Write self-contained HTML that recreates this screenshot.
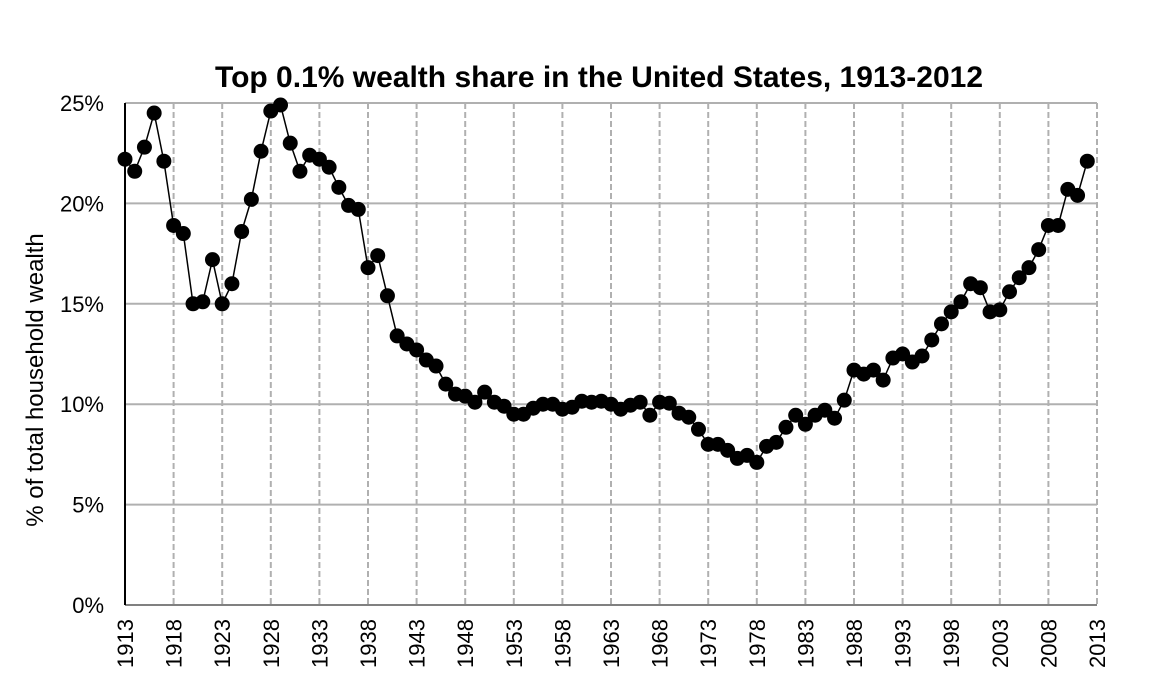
<!DOCTYPE html>
<html><head><meta charset="utf-8"><style>
html,body{margin:0;padding:0;background:#fff;}
svg{display:block;font-family:"Liberation Sans",Arial,sans-serif;}
</style></head><body>
<svg id="chart" width="1150" height="684">
<text x="599" y="87" text-anchor="middle" font-size="30" font-weight="bold" fill="#000">Top 0.1% wealth share in the United States, 1913-2012</text>
<text transform="translate(43,380) rotate(-90)" text-anchor="middle" font-size="24" fill="#000">% of total household wealth</text>
<g id="grid"></g>
<g id="axes"></g>
<g id="series"></g>
</svg>
<script>
const startYear = 1913;
const shares = [22.2,21.6,22.8,24.5,22.1,18.9,18.5,15.0,15.1,17.2,15.0,16.0,18.6,20.2,22.6,24.6,24.9,23.0,21.6,22.4,22.2,21.8,20.8,19.9,19.7,16.8,17.4,15.4,13.4,13.0,12.7,12.2,11.9,11.0,10.5,10.4,10.1,10.6,10.1,9.9,9.5,9.5,9.8,10.0,10.0,9.75,9.85,10.15,10.1,10.15,10.0,9.75,9.95,10.1,9.45,10.1,10.05,9.55,9.35,8.75,8.0,8.0,7.7,7.3,7.45,7.1,7.9,8.1,8.85,9.45,9.0,9.45,9.7,9.3,10.2,11.7,11.5,11.7,11.2,12.3,12.5,12.1,12.4,13.2,14.0,14.6,15.1,16.0,15.8,14.6,14.7,15.6,16.3,16.8,17.7,18.9,18.9,20.7,20.4,22.1];
const yTicks = [0,5,10,15,20,25];
const xTicks = [1913,1918,1923,1928,1933,1938,1943,1948,1953,1958,1963,1968,1973,1978,1983,1988,1993,1998,2003,2008,2013];

const NS = "http://www.w3.org/2000/svg";
const L=125,R=1097,T=103,B=605;
const xS = yr => L + (yr-1913)/(2013-1913)*(R-L);
const yS = v => B - v/25*(B-T);
function mk(tag, attrs, parent){const e=document.createElementNS(NS,tag);for(const k in attrs)e.setAttribute(k,attrs[k]);parent.appendChild(e);return e;}
const grid=document.getElementById('grid'), axes=document.getElementById('axes'), series=document.getElementById('series');

yTicks.forEach(v=>{
  if(v>0){const ln=mk('line',{x1:L,x2:R,y1:yS(v),y2:yS(v),stroke:'#b0b0b0','stroke-width':2},grid);
  
  }
  const t=mk('text',{x:104,y:yS(v)+8,'text-anchor':'end','font-size':22,fill:'#000'},axes);
  t.textContent=v+'%';
  
  
});
xTicks.forEach(yr=>{
  if(yr>1913){const ln=mk('line',{x1:xS(yr),x2:xS(yr),y1:T,y2:B,stroke:'#b0b0b0','stroke-width':2,'stroke-dasharray':'6,3'},grid);
  
  }
  const t=mk('text',{transform:`translate(${xS(yr)+8},619) rotate(-90)`,'text-anchor':'end','font-size':22,fill:'#000'},axes);
  t.textContent=yr;
  
  
});
const xa=mk('line',{x1:L,x2:R,y1:B,y2:B,stroke:'#808080','stroke-width':2},axes);


const ya=mk('line',{x1:L,x2:L,y1:T,y2:B,stroke:'#000','stroke-width':2},axes);



const pts=shares.map((v,i)=>xS(startYear+i)+','+yS(v)).join(' ');
const pl=mk('polyline',{points:pts,fill:'none',stroke:'#000','stroke-width':1.5},series);


shares.forEach((v,i)=>{
  const c=mk('circle',{cx:xS(startYear+i),cy:yS(v),r:7.5,fill:'#000'},series);
  
  
});
</script>
</body></html>
